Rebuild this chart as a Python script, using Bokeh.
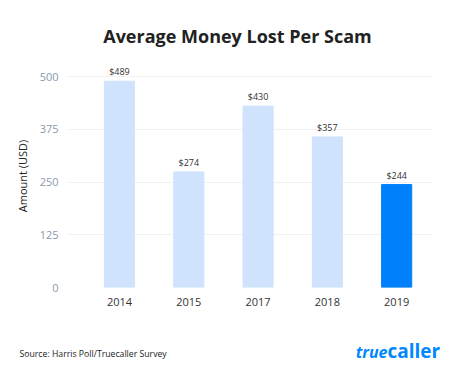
from bokeh.plotting import figure
from bokeh.layouts import column, row
from bokeh.models import Range1d, FixedTicker, ColumnDataSource
from bokeh.core.properties import value
from bokeh.embed import file_html
from bokeh.resources import INLINE
import math

years = ["2014", "2015", "2017", "2018", "2019"]
amounts = [489, 274, 430, 357, 244]
labels = ["$489", "$274", "$430", "$357", "$244"]
colors = ["#d0e3fd", "#d0e3fd", "#d0e3fd", "#d0e3fd", "#0080fa"]
y_ticks = [0, 125, 250, 375, 500]
title_text = "Average Money Lost Per Scam"
y_label = "Amount (USD)"
source_text = "Source: Harris Poll/Truecaller Survey"

FONT = "Open Sans"


def blank(w, h):
    f = figure(width=w, height=h, output_backend="svg", toolbar_location=None,
               x_range=Range1d(0, w), y_range=Range1d(h, 0),
               x_axis_type=None, y_axis_type=None, min_border=0,
               min_border_left=0, min_border_right=0,
               min_border_top=0, min_border_bottom=0)
    f.outline_line_color = None
    f.background_fill_color = "white"
    f.border_fill_color = "white"
    return f


LW = 34

# header with title
header = blank(474, 63)
header.text(x=[237], y=[35], text=[title_text], text_align="center",
            text_baseline="middle", text_font=value(FONT),
            text_font_style="bold", text_font_size="18px", text_color="#222222")

# left strip with axis label
left = blank(LW, 257)
left.text(x=[22], y=[129], text=[y_label], angle=math.pi / 2,
          text_align="center", text_baseline="middle", text_font=value(FONT),
          text_font_size="11px", text_color="#222222")

# main chart
xs = list(range(len(years)))
src = ColumnDataSource(dict(x=xs, top=amounts, lab=labels, color=colors))
MW, MH = 474 - LW, 257
p = figure(width=MW, height=MH, output_backend="svg", toolbar_location=None,
           x_range=Range1d(-0.75, 4.517), y_range=Range1d(0, 531),
           min_border_left=67 - LW, min_border_right=42,
           min_border_top=0, min_border_bottom=33)
p.outline_line_color = None
p.background_fill_color = "white"
p.border_fill_color = "white"

p.vbar(x="x", top="top", width=0.435, bottom=0, fill_color="color",
       line_color="color", source=src)
p.text(x="x", y="top", text="lab", source=src, text_align="center",
       text_baseline="bottom", y_offset=-3, text_font_size="9px",
       text_color="#333333", text_font=value(FONT))

p.xgrid.grid_line_color = None
p.ygrid.grid_line_color = "#f1f1f1"
p.ygrid.ticker = FixedTicker(ticks=y_ticks)

p.yaxis.ticker = FixedTicker(ticks=y_ticks)
p.yaxis.axis_line_color = None
p.yaxis.major_tick_line_color = None
p.yaxis.minor_tick_line_color = None
p.yaxis.major_tick_out = 0
p.yaxis.major_tick_in = 0
p.yaxis.minor_tick_out = 0
p.yaxis.major_label_text_font = FONT
p.yaxis.major_label_text_font_size = "11px"
p.yaxis.major_label_text_color = "#8a9aab"
p.yaxis.major_label_standoff = 9

p.xaxis.ticker = FixedTicker(ticks=xs)
p.xaxis.major_label_overrides = {i: y for i, y in zip(xs, years)}
p.xaxis.axis_line_color = None
p.xaxis.major_tick_line_color = None
p.xaxis.minor_tick_line_color = None
p.xaxis.major_tick_out = 0
p.xaxis.major_tick_in = 0
p.xaxis.minor_tick_out = 0
p.xaxis.major_label_text_font = FONT
p.xaxis.major_label_text_font_size = "11px"
p.xaxis.major_label_text_color = "#333333"
p.xaxis.major_label_standoff = 10

# footer with source and logo
footer = blank(474, 62)
footer.text(x=[19], y=[33], text=[source_text], text_align="left",
            text_baseline="middle", text_font=value(FONT),
            text_font_size="8.7px", text_color="#222222")
footer.text(x=[387], y=[31], text=["true"], text_align="right",
            text_baseline="middle", text_font=value(FONT),
            text_font_style="bold italic", text_font_size="16px",
            text_color="#0087ff")
footer.text(x=[387], y=[30], text=["caller"], text_align="left",
            text_baseline="middle", text_font=value(FONT),
            text_font_style="bold", text_font_size="19px",
            text_color="#0087ff")

layout = column(header, row(left, p, spacing=0), footer, spacing=0)
open("out.html", "w").write(file_html(layout, INLINE))
